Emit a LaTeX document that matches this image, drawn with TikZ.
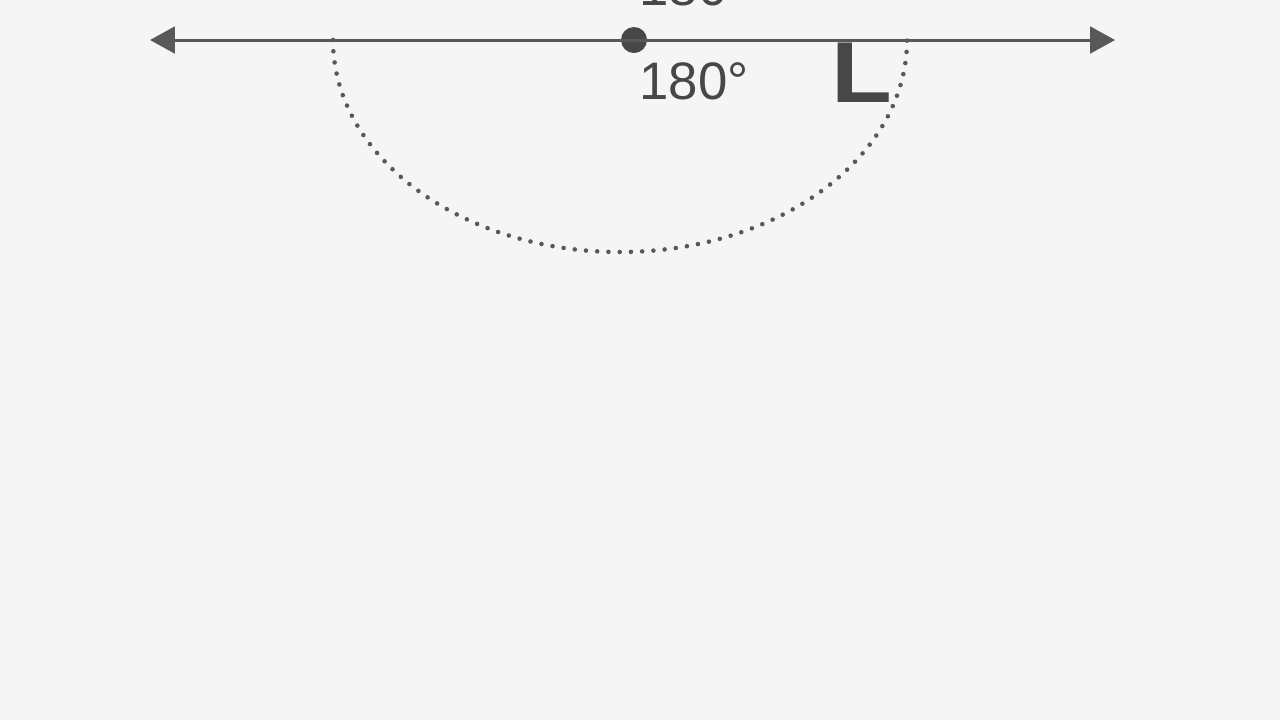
\documentclass[tikz,border=0pt]{standalone}
\usepackage{fontspec}
\setmainfont{Liberation Sans}
\usetikzlibrary{positioning}
\usetikzlibrary{arrows.meta}
\definecolor{bggray}{HTML}{F5F5F5}
\definecolor{linegray}{HTML}{585858}
\definecolor{inkgray}{HTML}{474747}

\begin{document}
\begin{tikzpicture}[x=0.01cm,y=0.01cm,
  axisline/.style={draw=linegray, line width=0.85pt, {Triangle[length=7.1pt,width=7.6pt]}-{Triangle[length=7.1pt,width=7.6pt]}},
  vertexdot/.style={circle, fill=inkgray, minimum size=7.4pt, inner sep=0pt},
  anglelbl/.style={text=inkgray, inner sep=0pt, font=\fontsize{15pt}{18pt}\selectfont},
  sweep/.style={draw=linegray, line width=1.3pt, line cap=round, dash pattern=on 0pt off 3.2pt}]
\fill[bggray] (0,0) rectangle (1280,-720);
\clip (0,0) rectangle (1280,-720);

\coordinate (lt) at (150,-40);
\coordinate (rt) at (1115,-40);
\node[vertexdot] (vertex) at (634,-40) {};

% straight angle
\draw[axisline] (lt) -- (rt);
\draw[sweep] (333,-40) arc[start angle=180, end angle=360, x radius=287, y radius=212];

\node[anglelbl, anchor=base] (lower) at (694,-99) {180°};
\node[anglelbl, anchor=base] (upper) at (694,-5) {180°};
\node[text=inkgray, inner sep=0pt, anchor=base west, font=\fontsize{24.6pt}{28pt}\selectfont\bfseries] (corner) at (831,-102) {\scalebox{1.15}[1]{L}};
\end{tikzpicture}
\end{document}
